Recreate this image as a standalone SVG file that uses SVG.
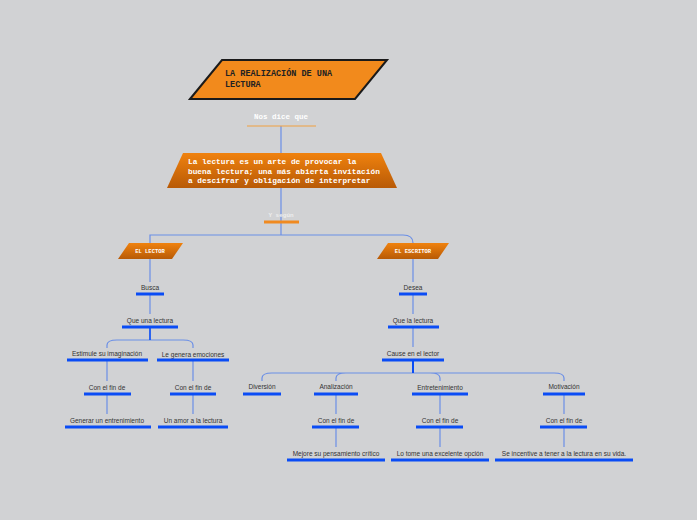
<svg xmlns="http://www.w3.org/2000/svg" width="697" height="520" viewBox="0 0 697 520">
<defs>
<linearGradient id="og" x1="0" y1="0" x2="0" y2="1"><stop offset="0" stop-color="#f0820e"/><stop offset="1" stop-color="#b85a06"/></linearGradient>
<style>
.t{font-family:"Liberation Sans",Arial,sans-serif;font-size:6.5px;fill:#333;text-anchor:middle}
.m{font-family:"Liberation Mono","DejaVu Sans Mono",monospace;font-weight:bold}
.u{stroke:#0a4cf5;stroke-width:3;fill:none}
.c{stroke:#6b8fe6;stroke-width:1.2;fill:none}
</style>
</defs>
<rect width="697" height="520" fill="#d1d2d4"/>
<g id="connectors">
<path class="c" d="M281 126V153M281 188V235M150 243V235Q150 235 160 235H403Q413 235 413 243"/>
<path class="c" d="M150 259V282M150 294V314M150 327V340M107 348V345Q107 340 117 340H183Q193 340 193 345V348M107 360V381M107 394V414M193 360V381M193 394V414"/>
<path class="c" d="M413 259V282M413 294V314M413 327V347M413 360V373M262 381V378Q262 373 272 373H554Q564 373 564 378V381M336 381V378Q336 373 346 373M440 381V378Q440 373 430 373M336 394V414M336 427V447M440 394V414M440 427V447M564 394V414M564 427V447"/>
<path d="M413 360V373" stroke="#0a4cf5" stroke-width="2"/>
<path d="M150 327V340" stroke="#0a4cf5" stroke-width="1.5"/>
</g>
<g id="title"><polygon points="190,99 222,60 387,60 355,99" fill="#f28a1c" stroke="#1a1a1a" stroke-width="2"/>
<text class="m" x="225" y="76" font-size="8.5" fill="#222">LA REALIZACIÓN DE UNA</text>
<text class="m" x="225" y="87" font-size="8.5" fill="#222">LECTURA</text></g>
<g id="nos"><text class="m" x="281" y="119" font-size="7.5" fill="#fff" text-anchor="middle">Nos dice que</text><line x1="247" y1="126" x2="316" y2="126" stroke="#f0a040" stroke-width="1"/></g>
<g id="def"><polygon points="167,188 183,153 381,153 397,188" fill="url(#og)"/>
<text class="m" font-size="7.8" fill="#fff"><tspan x="188" y="164">La lectura es un arte de provocar la</tspan><tspan x="188" y="173.5">buena lectura; una más abierta invitación</tspan><tspan x="188" y="183">a descifrar y obligación de interpretar</tspan></text></g>
<g id="segun"><text class="m" x="281" y="217" font-size="6" fill="#eee" text-anchor="middle" font-weight="normal">Y según</text><line x1="264" y1="222" x2="299" y2="222" stroke="#f08a20" stroke-width="3"/></g>
<g id="lector"><polygon points="118,259 129,243 183,243 172,259" fill="url(#og)"/><text class="m" x="150" y="253" font-size="5.5" fill="#fff" text-anchor="middle" font-weight="normal">EL LECTOR</text></g>
<g id="escritor"><polygon points="377,259 388,243 449,243 438,259" fill="url(#og)"/><text class="m" x="413" y="253" font-size="5.5" fill="#fff" text-anchor="middle" font-weight="normal">EL ESCRITOR</text></g>
<g id="busca"><text class="t" x="150" y="290">Busca</text><line class="u" x1="136" y1="294" x2="164" y2="294"/></g>
<g id="queuna"><text class="t" x="150" y="323">Que una lectura</text><line class="u" x1="122" y1="327" x2="178" y2="327"/></g>
<g id="estimule"><text class="t" x="107" y="356">Estimule su imaginación</text><line class="u" x1="67" y1="360" x2="148" y2="360"/></g>
<g id="genera"><text class="t" x="193" y="357">Le genera emociones</text><line class="u" x1="157" y1="360" x2="229" y2="360"/></g>
<g id="fin1"><text class="t" x="107" y="390">Con el fin de</text><line class="u" x1="84" y1="394" x2="131" y2="394"/></g>
<g id="fin2"><text class="t" x="193" y="390">Con el fin de</text><line class="u" x1="170" y1="394" x2="216" y2="394"/></g>
<g id="generar"><text class="t" x="107" y="423">Generar un entrenimiento</text><line class="u" x1="65" y1="427" x2="151" y2="427"/></g>
<g id="amor"><text class="t" x="193" y="423">Un amor a la lectura</text><line class="u" x1="158" y1="427" x2="228" y2="427"/></g>
<g id="desea"><text class="t" x="413" y="290">Desea</text><line class="u" x1="399" y1="294" x2="427" y2="294"/></g>
<g id="quela"><text class="t" x="413" y="323">Que la lectura</text><line class="u" x1="388" y1="327" x2="439" y2="327"/></g>
<g id="cause"><text class="t" x="413" y="356">Cause en el lector</text><line class="u" x1="382" y1="360" x2="444" y2="360"/></g>
<g id="diversion"><text class="t" x="262" y="389">Diversión</text><line class="u" x1="243" y1="394" x2="281" y2="394"/></g>
<g id="analizacion"><text class="t" x="336" y="389">Analización</text><line class="u" x1="314" y1="394" x2="358" y2="394"/></g>
<g id="entret"><text class="t" x="440" y="390">Entretenimiento</text><line class="u" x1="412" y1="394" x2="468" y2="394"/></g>
<g id="motivacion"><text class="t" x="564" y="389">Motivación</text><line class="u" x1="543" y1="394" x2="585" y2="394"/></g>
<g id="fin3"><text class="t" x="336" y="423">Con el fin de</text><line class="u" x1="312" y1="427" x2="359" y2="427"/></g>
<g id="fin4"><text class="t" x="440" y="423">Con el fin de</text><line class="u" x1="416" y1="427" x2="463" y2="427"/></g>
<g id="fin5"><text class="t" x="564" y="423">Con el fin de</text><line class="u" x1="540" y1="427" x2="587" y2="427"/></g>
<g id="mejore"><text class="t" x="336" y="456">Mejore su pensamiento crítico</text><line class="u" x1="287" y1="460" x2="385" y2="460"/></g>
<g id="tome"><text class="t" x="440" y="456">Lo tome una excelente opción</text><line class="u" x1="391" y1="460" x2="489" y2="460"/></g>
<g id="incentive"><text class="t" x="564" y="456">Se incentive a tener a la lectura en su vida.</text><line class="u" x1="495" y1="460" x2="633" y2="460"/></g>
</svg>
